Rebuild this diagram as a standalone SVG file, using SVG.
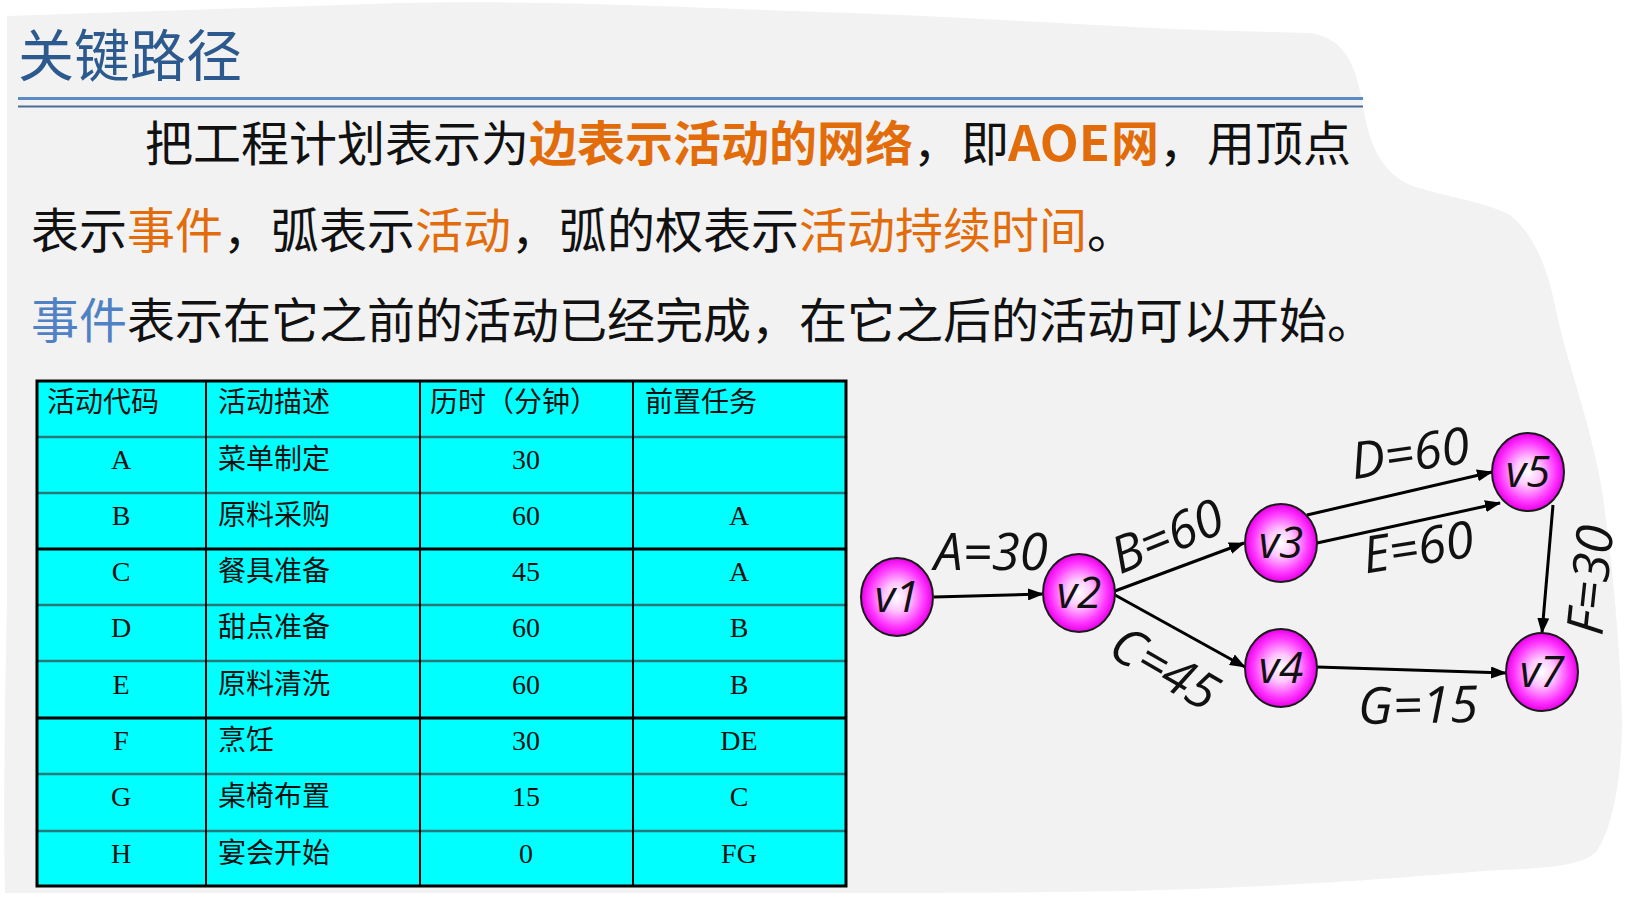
<svg xmlns="http://www.w3.org/2000/svg" width="1626" height="897" viewBox="0 0 1626 897">
<defs>
  <style>
    .title{font-family:"Noto Sans CJK SC",sans-serif;font-size:56px;fill:#2d5a8e;}
    .para{font-family:"Noto Sans CJK SC",sans-serif;font-size:48px;fill:#111;}
    .or{fill:#e36c0a;}
    .orb{fill:#e36c0a;font-weight:bold;}
    .bl{fill:#4f81c4;}
    .cell{font-family:"Liberation Serif","Noto Sans CJK SC",serif;font-size:28px;fill:#111;}
    .mid{text-anchor:middle;}
    .rowT{stroke:#267a7a;stroke-width:2.5;}
    .rowB{stroke:#000;stroke-width:3;}
    .col{stroke:#000;stroke-width:2;}
    .node{fill:url(#ng);stroke:#1a1a1a;stroke-width:2;}
    .nlab{font-family:"Open Sans",sans-serif;font-style:italic;font-size:44px;fill:#111;text-anchor:middle;}
    .elab{font-family:"Open Sans",sans-serif;font-style:italic;font-size:51px;fill:#111;text-anchor:middle;}
    .edge{stroke:#000;stroke-width:3;fill:none;marker-end:url(#arr);}
  </style>
  <radialGradient id="ng" cx="0.5" cy="0.5" r="0.5">
    <stop offset="0" stop-color="#ffffff"/>
    <stop offset="0.35" stop-color="#ffc8ff"/>
    <stop offset="0.78" stop-color="#ff33ff"/>
    <stop offset="1" stop-color="#e600e6"/>
  </radialGradient>
  <marker id="arr" markerUnits="userSpaceOnUse" markerWidth="16" markerHeight="12" refX="15" refY="6" orient="auto">
    <path d="M0,0 L16,6 L0,12 Z" fill="#000"/>
  </marker>
</defs>

<rect width="1626" height="897" fill="#ffffff"/>
<path id="bg" fill="#f2f2f2" d="M7,16 C120,12 250,8 400,3 C550,0 700,8 820,12 C950,16 1100,26 1200,30 L1310,33 C1345,38 1355,65 1362,100 C1368,140 1378,170 1410,185 C1440,196 1480,200 1510,215 C1535,235 1548,270 1556,310 C1566,360 1590,420 1602,490 C1612,560 1620,640 1622,720 C1622,780 1612,830 1596,852 C1580,866 1550,868 1500,870 C1440,874 1380,880 1300,884 C1200,890 1100,893 900,893 L5,893 C3,800 5,700 7,600 Z"/>

<g id="header">
  <text class="title" x="18" y="76">关键路径</text>
  <line x1="18" y1="98.5" x2="1363" y2="98.5" stroke="#5b8ac5" stroke-width="3"/>
  <line x1="18" y1="106.5" x2="1363" y2="106.5" stroke="#4a6c96" stroke-width="2"/>
</g>

<g id="paragraph">
  <text class="para" y="161"><tspan x="145">把工程计划表示为</tspan><tspan class="orb">边表示活动的网络</tspan><tspan>，即</tspan><tspan class="orb" x="1008" textLength="102" lengthAdjust="spacingAndGlyphs">AOE</tspan><tspan class="orb" x="1111">网</tspan><tspan x="1159">，用顶点</tspan></text>
  <text class="para" x="31" y="248">表示<tspan class="or">事件</tspan>，弧表示<tspan class="or">活动</tspan>，弧的权表示<tspan class="or">活动持续时间</tspan>。</text>
  <text class="para" x="31" y="338"><tspan class="bl">事件</tspan>表示在它之前的活动已经完成，在它之后的活动可以开始。</text>
</g>

<g id="table">
  <rect x="37" y="381" width="809" height="505" fill="#00ffff"/>
  <line class="rowT" x1="37" y1="437" x2="846" y2="437"/>
  <line class="rowT" x1="37" y1="493" x2="846" y2="493"/>
  <line class="rowB" x1="37" y1="549" x2="846" y2="549"/>
  <line class="rowT" x1="37" y1="605" x2="846" y2="605"/>
  <line class="rowT" x1="37" y1="661" x2="846" y2="661"/>
  <line class="rowB" x1="37" y1="718" x2="846" y2="718"/>
  <line class="rowT" x1="37" y1="774" x2="846" y2="774"/>
  <line class="rowT" x1="37" y1="831" x2="846" y2="831"/>
  <line class="col" x1="206" y1="381" x2="206" y2="886"/>
  <line class="col" x1="420" y1="381" x2="420" y2="886"/>
  <line class="col" x1="633" y1="381" x2="633" y2="886"/>
  <rect x="37" y="381" width="809" height="505" fill="none" stroke="#000" stroke-width="3"/>

  <text class="cell" x="47" y="412">活动代码</text>
  <text class="cell" x="218" y="412">活动描述</text>
  <text class="cell" x="430" y="412">历时（分钟）</text>
  <text class="cell" x="645" y="412">前置任务</text>

  <g class="cell">
    <text class="mid" x="121" y="469">A</text><text x="218" y="469">菜单制定</text><text class="mid" x="526" y="469">30</text>
    <text class="mid" x="121" y="525">B</text><text x="218" y="525">原料采购</text><text class="mid" x="526" y="525">60</text><text class="mid" x="739" y="525">A</text>
    <text class="mid" x="121" y="581">C</text><text x="218" y="581">餐具准备</text><text class="mid" x="526" y="581">45</text><text class="mid" x="739" y="581">A</text>
    <text class="mid" x="121" y="637">D</text><text x="218" y="637">甜点准备</text><text class="mid" x="526" y="637">60</text><text class="mid" x="739" y="637">B</text>
    <text class="mid" x="121" y="694">E</text><text x="218" y="694">原料清洗</text><text class="mid" x="526" y="694">60</text><text class="mid" x="739" y="694">B</text>
    <text class="mid" x="121" y="750">F</text><text x="218" y="750">烹饪</text><text class="mid" x="526" y="750">30</text><text class="mid" x="739" y="750">DE</text>
    <text class="mid" x="121" y="806">G</text><text x="218" y="806">桌椅布置</text><text class="mid" x="526" y="806">15</text><text class="mid" x="739" y="806">C</text>
    <text class="mid" x="121" y="863">H</text><text x="218" y="863">宴会开始</text><text class="mid" x="526" y="863">0</text><text class="mid" x="739" y="863">FG</text>
  </g>
</g>

<g id="connectors">
  <line class="edge" x1="934" y1="597" x2="1043" y2="594"/>
  <line class="edge" x1="1115" y1="591" x2="1244" y2="543"/>
  <line class="edge" x1="1115" y1="595" x2="1245" y2="667"/>
  <line class="edge" x1="1307" y1="515" x2="1492" y2="472"/>
  <line class="edge" x1="1317" y1="543" x2="1500" y2="503"/>
  <line class="edge" x1="1553" y1="505" x2="1542" y2="633"/>
  <line class="edge" x1="1317" y1="667" x2="1506" y2="673"/>
  <text class="elab" x="991" y="570">A=30</text>
  <text class="elab" transform="translate(1167,536) rotate(-22)" dy="18">B=60</text>
  <text class="elab" transform="translate(1165,668) rotate(30)" dy="18">C=45</text>
  <text class="elab" transform="translate(1410,453) rotate(-8)" dy="18">D=60</text>
  <text class="elab" transform="translate(1418,547) rotate(-9)" dy="18">E=60</text>
  <text class="elab" transform="translate(1590,580) rotate(-84)" dy="18">F=30</text>
  <text class="elab" transform="translate(1418,705) rotate(-1)" dy="18">G=15</text>
</g>

<g id="v1"><ellipse class="node" cx="897" cy="597" rx="36" ry="39"/><text class="nlab" x="897" y="612">v1</text></g>
<g id="v2"><ellipse class="node" cx="1079" cy="593" rx="36" ry="39"/><text class="nlab" x="1079" y="608">v2</text></g>
<g id="v3"><ellipse class="node" cx="1281" cy="543" rx="36" ry="39"/><text class="nlab" x="1281" y="558">v3</text></g>
<g id="v4"><ellipse class="node" cx="1281" cy="668" rx="36" ry="39"/><text class="nlab" x="1281" y="683">v4</text></g>
<g id="v5"><ellipse class="node" cx="1528" cy="472" rx="36" ry="39"/><text class="nlab" x="1528" y="487">v5</text></g>
<g id="v7"><ellipse class="node" cx="1542" cy="672" rx="36" ry="39"/><text class="nlab" x="1542" y="687">v7</text></g>
</svg>
